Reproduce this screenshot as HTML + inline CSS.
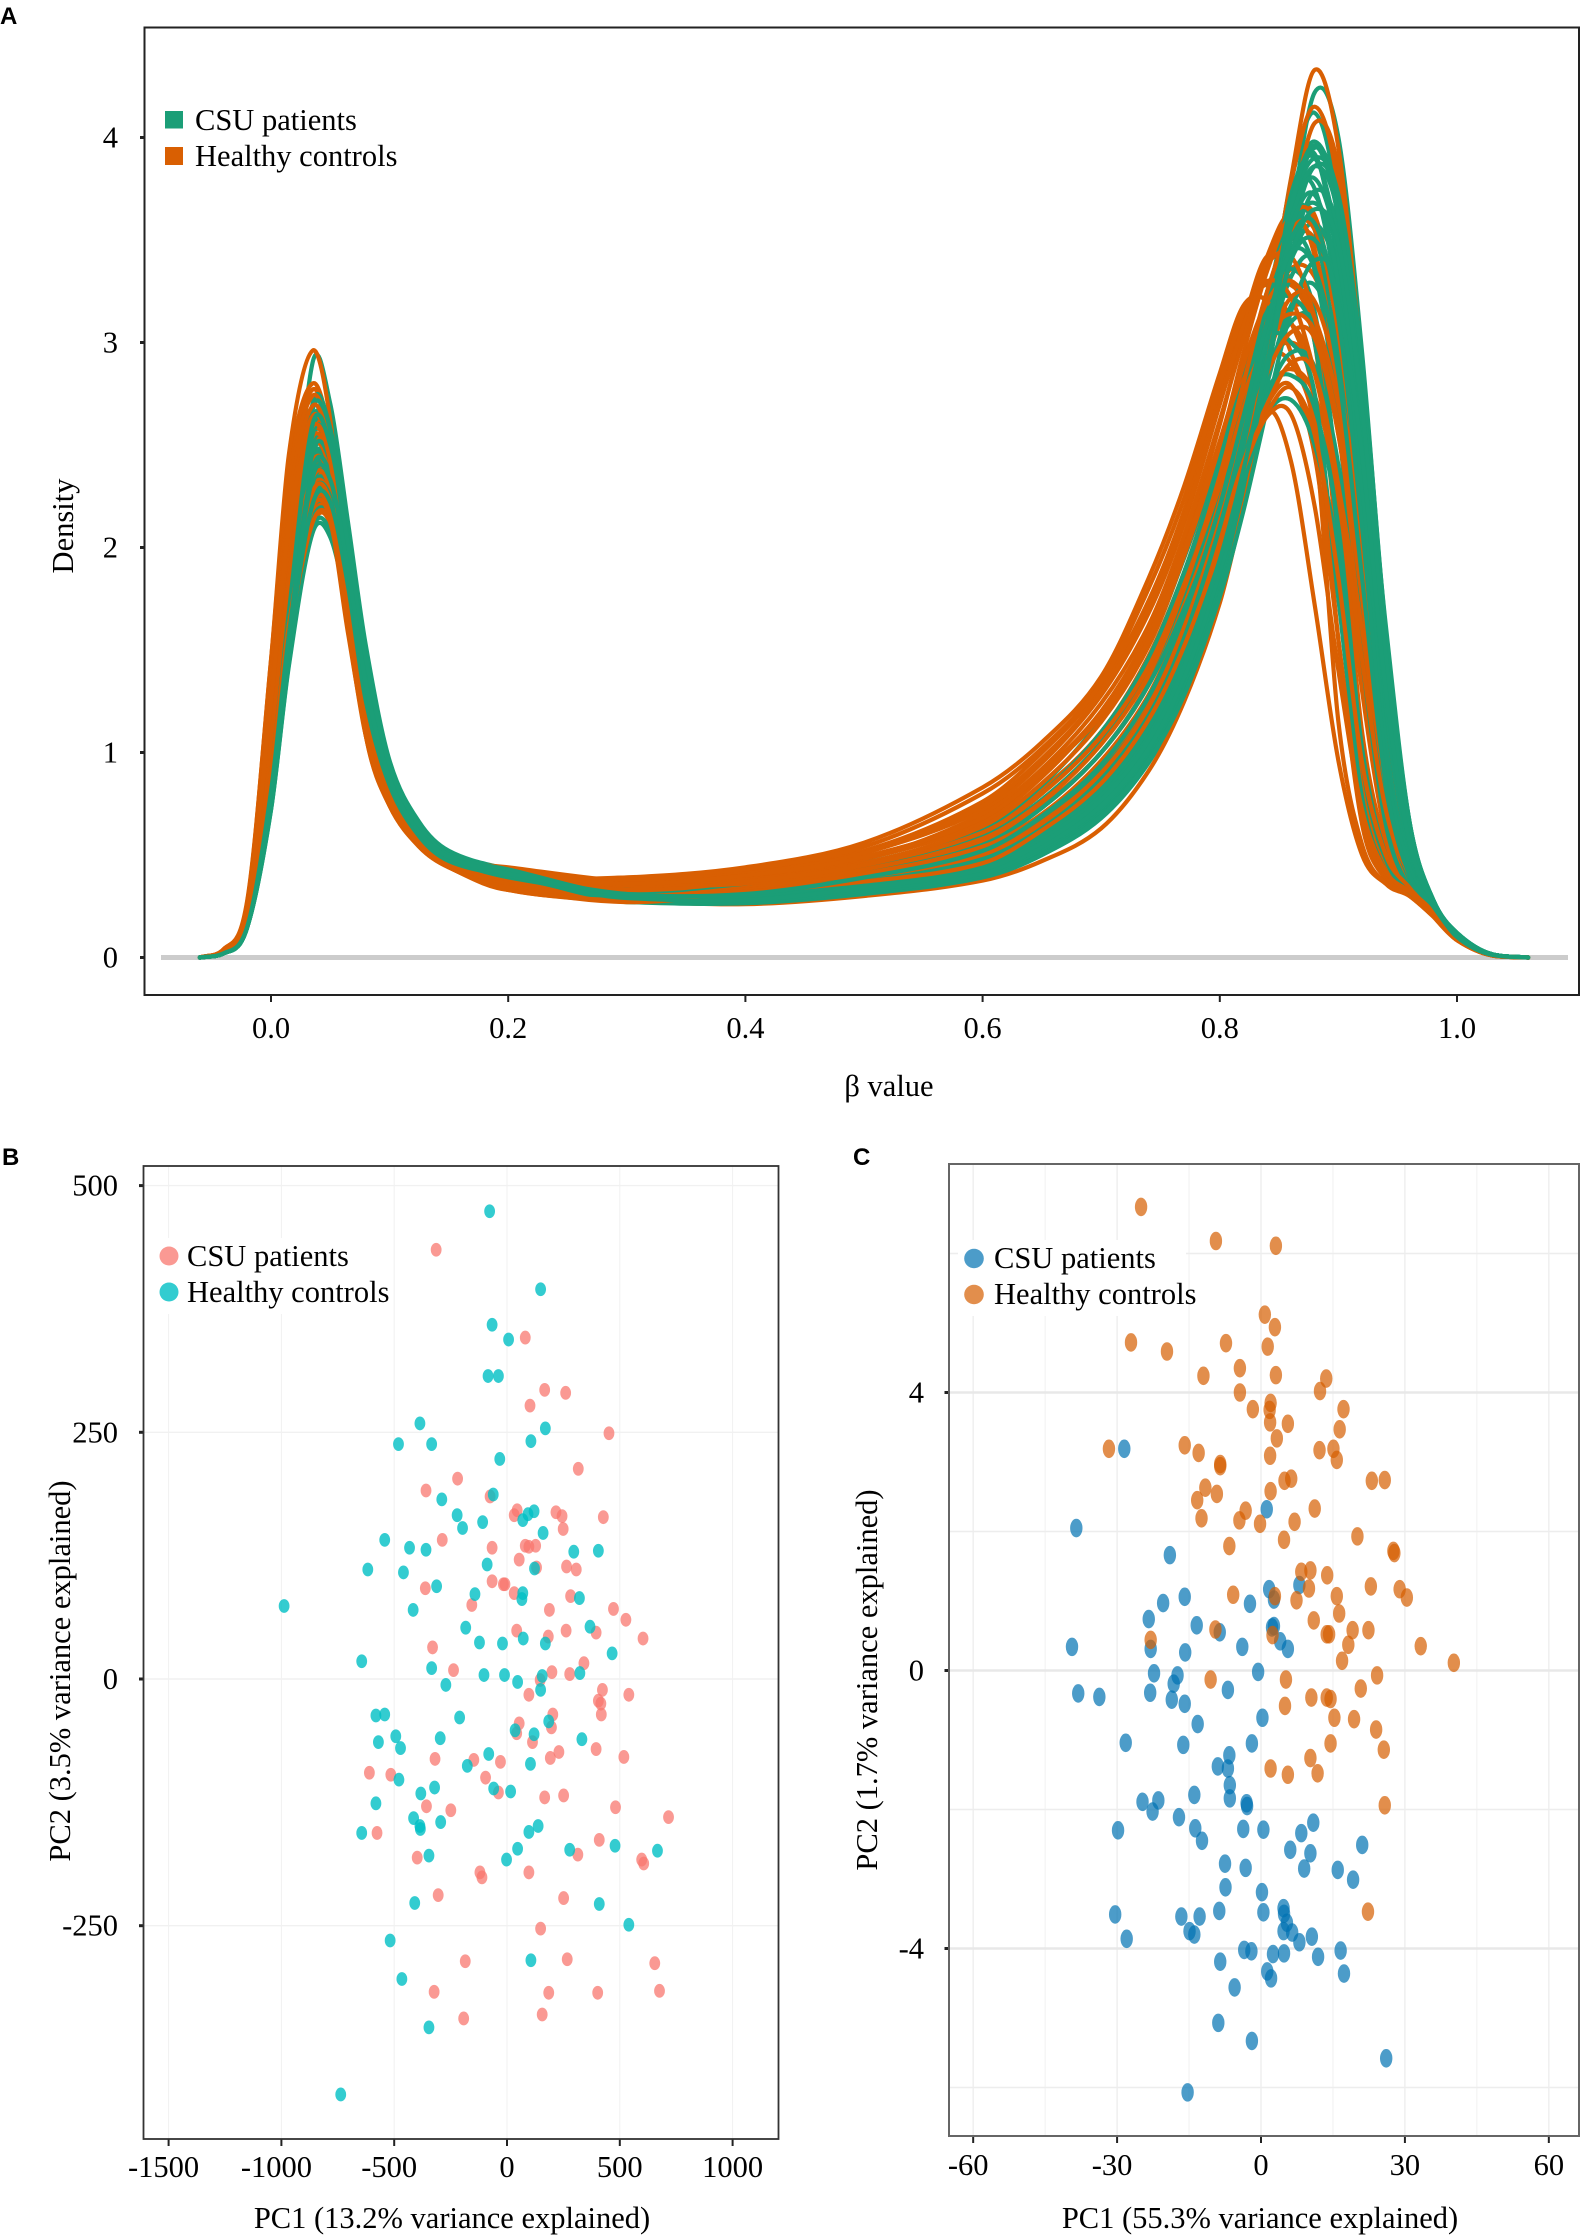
<!DOCTYPE html>
<html lang="en">
<head>
<meta charset="utf-8">
<title>Beta value density and PCA plots</title>
<style>
html,body{margin:0;padding:0;background:#fff;width:1581px;height:2235px;overflow:hidden}
svg{display:block}
text{font-family:"Liberation Serif","Times New Roman",serif;font-size:30.5px;fill:#000}
.letter{font-family:"Liberation Sans",Arial,sans-serif;font-weight:700;font-size:24px}
</style>
</head>
<body>
<svg id="fig" xmlns="http://www.w3.org/2000/svg" width="1581" height="2235" viewBox="0 0 1581 2235">
  <rect width="1581" height="2235" fill="#fff"/>

  <text class="letter" x="0" y="24">A</text>
  <text class="letter" x="2" y="1165">B</text>
  <text class="letter" x="853" y="1165">C</text>

  <g id="gridB"></g>
  <g id="gridC"></g>
  <rect x="150" y="1238" width="242" height="76" fill="#fff"/>
  <rect x="958" y="1240" width="228" height="76" fill="#fff"/>

  <line id="baselineA" stroke="#cccccc" stroke-width="5"/>
  <g id="curvesA" fill="none" stroke-width="4.2" stroke-linejoin="round" stroke-linecap="round"></g>
  <g id="pointsB"></g>
  <g id="pointsC"></g>

  <g id="axesA"></g>
  <g id="axesB"></g>
  <g id="axesC"></g>

  <rect x="144.5" y="27.5" width="1434.5" height="967.5" fill="none" stroke="#222" stroke-width="2"/>
  <rect x="143.5" y="1166" width="635" height="973" fill="none" stroke="#333" stroke-width="1.8"/>
  <rect x="949" y="1164" width="630" height="972" fill="none" stroke="#666" stroke-width="2"/>

  <g>
    <rect x="165" y="111" width="18" height="17.5" fill="#1b9e77"/>
    <text x="195" y="130">CSU patients</text>
    <rect x="165" y="147" width="18" height="18" fill="#d95f02"/>
    <text x="195" y="166">Healthy controls</text>
  </g>
  <g>
    <ellipse cx="169" cy="1256" rx="9.5" ry="9.5" fill="#f8766d" fill-opacity=".74"/>
    <text x="187" y="1266">CSU patients</text>
    <ellipse cx="169" cy="1292" rx="9.5" ry="9.5" fill="#00bfc4" fill-opacity=".8"/>
    <text x="187" y="1302">Healthy controls</text>
  </g>
  <g>
    <ellipse cx="974" cy="1258.5" rx="9.8" ry="9.8" fill="#0072b2" fill-opacity=".7"/>
    <text x="994" y="1268">CSU patients</text>
    <ellipse cx="974" cy="1294.5" rx="9.8" ry="9.8" fill="#d55e00" fill-opacity=".7"/>
    <text x="994" y="1304">Healthy controls</text>
  </g>

  <text x="889" y="1096" text-anchor="middle">β value</text>
  <text transform="translate(73,526) rotate(-90)" text-anchor="middle">Density</text>
  <text x="452" y="2228" text-anchor="middle">PC1 (13.2% variance explained)</text>
  <text transform="translate(70,1671) rotate(-90)" text-anchor="middle">PC2 (3.5% variance explained)</text>
  <text x="1260" y="2228" text-anchor="middle">PC1 (55.3% variance explained)</text>
  <text transform="translate(877,1680) rotate(-90)" text-anchor="middle">PC2 (1.7% variance explained)</text>
</svg>

<script>
/* ---------- Panel A: density curves ---------- */
const densityBeta = [-0.06,-0.04,-0.02,0,0.015,0.035,0.05,0.065,0.08,0.1,0.125,0.15,0.2,0.3,0.4,0.5,0.6,0.65,0.7,0.74,0.77,0.8,0.82,0.84,0.86,0.88,0.9,0.92,0.94,0.96,0.98,1,1.03,1.06];
const csuDensity = [
[0,.02,.16,.85,1.63,2.48,2.43,1.96,1.42,.92,.63,.5,.4,.28,.27,.33,.40,.51,.70,.98,1.33,1.85,2.3,2.9,3.6,4.22,4.0,2.95,1.58,.66,.28,.12,.015,0],
[0,.02,.17,.95,1.79,2.9,2.7,2.12,1.52,.96,.66,.52,.43,.29,.28,.34,.42,.55,.76,1.05,1.42,1.98,2.48,3.1,3.78,4.12,3.65,2.45,1.25,.55,.26,.11,.015,0],
[0,.02,.15,.75,1.48,2.17,2.18,1.78,1.22,.83,.58,.47,.38,.28,.27,.33,.41,.54,.75,1.04,1.4,1.95,2.42,3.03,3.7,3.98,3.65,2.62,1.4,.6,.27,.115,.015,0],
[0,.02,.16,.89,1.69,2.62,2.52,2.02,1.46,.94,.64,.5,.41,.28,.265,.32,.40,.52,.72,1.0,1.35,1.88,2.35,2.95,3.62,3.95,3.7,2.75,1.5,.64,.28,.12,.015,0],
[0,.02,.15,.8,1.55,2.3,2.3,1.86,1.3,.86,.6,.48,.39,.28,.28,.35,.44,.58,.8,1.1,1.48,2.02,2.5,3.08,3.72,3.9,3.45,2.35,1.1,.48,.26,.11,.015,0],
[0,.02,.15,.73,1.44,2.11,2.12,1.72,1.18,.81,.58,.46,.38,.28,.265,.32,.39,.5,.68,.95,1.28,1.8,2.25,2.83,3.5,3.86,3.7,2.85,1.55,.65,.28,.12,.015,0],
[0,.02,.17,.91,1.72,2.7,2.58,2.05,1.5,.95,.65,.51,.42,.30,.29,.36,.47,.62,.86,1.17,1.55,2.1,2.58,3.13,3.7,3.75,3.15,1.95,.88,.4,.25,.1,.012,0],
[0,.02,.15,.82,1.59,2.4,2.38,1.92,1.36,.88,.62,.49,.39,.29,.27,.33,.40,.53,.73,1.0,1.34,1.85,2.3,2.85,3.42,3.74,3.55,2.72,1.45,.62,.27,.115,.015,0],
[0,.02,.16,.85,1.62,2.45,2.41,1.94,1.4,.91,.63,.49,.4,.31,.30,.38,.50,.67,.92,1.25,1.65,2.2,2.68,3.2,3.65,3.55,2.85,1.7,.72,.36,.25,.1,.012,0],
[0,.02,.15,.72,1.42,2.07,2.05,1.68,1.15,.8,.57,.46,.38,.28,.27,.34,.43,.57,.78,1.08,1.44,1.95,2.4,2.92,3.4,3.58,3.3,2.4,1.2,.52,.26,.11,.015,0],
[0,.02,.17,.9,1.71,2.67,2.55,2.03,1.48,.95,.65,.51,.41,.32,.32,.41,.55,.73,1.0,1.33,1.75,2.3,2.78,3.25,3.52,3.35,2.6,1.4,.62,.34,.24,.1,.012,0],
[0,.02,.15,.78,1.53,2.26,2.26,1.84,1.28,.85,.6,.48,.38,.31,.29,.36,.46,.61,.84,1.15,1.52,2.02,2.45,2.93,3.32,3.4,2.95,2.0,.92,.42,.25,.105,.012,0],
[0,.02,.16,.87,1.65,2.53,2.46,1.98,1.44,.93,.64,.5,.41,.34,.33,.42,.58,.77,1.05,1.4,1.82,2.35,2.8,3.22,3.36,3.15,2.3,1.05,.52,.33,.24,.1,.012,0],
[0,.02,.15,.75,1.47,2.15,2.16,1.76,1.2,.82,.58,.47,.38,.30,.28,.34,.42,.55,.76,1.05,1.4,1.9,2.32,2.8,3.18,3.28,2.95,2.1,1.05,.46,.26,.11,.015,0],
[0,.02,.15,.82,1.58,2.36,2.35,1.9,1.34,.88,.61,.49,.4,.36,.35,.44,.60,.80,1.1,1.46,1.88,2.4,2.82,3.15,3.22,3.0,2.05,.9,.46,.32,.24,.1,.012,0],
[0,.02,.16,.88,1.67,2.58,2.5,2.0,1.45,.94,.64,.5,.4,.33,.30,.37,.48,.63,.87,1.18,1.56,2.05,2.45,2.85,3.1,3.1,2.65,1.72,.78,.38,.25,.105,.012,0],
[0,.02,.15,.77,1.51,2.22,2.24,1.82,1.26,.84,.59,.47,.38,.37,.36,.46,.63,.84,1.16,1.52,1.95,2.45,2.8,3.03,3.0,2.75,1.75,.78,.42,.31,.24,.1,.012,0],
[0,.02,.15,.84,1.6,2.42,2.39,1.93,1.38,.9,.62,.49,.39,.34,.31,.38,.50,.66,.9,1.22,1.58,2.05,2.42,2.75,2.95,2.88,2.4,1.45,.65,.34,.25,.1,.012,0],
[0,.02,.15,.72,1.43,2.09,2.08,1.7,1.16,.8,.57,.46,.38,.35,.33,.41,.55,.73,1.0,1.33,1.7,2.15,2.5,2.78,2.84,2.68,2.1,1.02,.5,.32,.24,.1,.012,0],
[0,.02,.15,.81,1.56,2.33,2.32,1.88,1.32,.87,.61,.48,.39,.31,.29,.36,.48,.62,.84,1.13,1.47,1.95,2.32,2.65,2.72,2.5,1.95,.95,.48,.32,.24,.1,.012,0],
[0,.02,.16,.86,1.64,2.5,2.44,1.97,1.43,.92,.63,.5,.4,.28,.27,.33,.41,.54,.74,1.02,1.37,1.9,2.36,2.97,3.63,3.9,3.72,2.9,1.6,.66,.28,.12,.015,0],
[0,.02,.15,.76,1.5,2.19,2.2,1.8,1.24,.84,.59,.47,.38,.29,.28,.35,.45,.59,.81,1.11,1.49,2.03,2.48,3.02,3.52,3.68,3.42,2.55,1.35,.58,.27,.115,.015,0],
[0,.02,.15,.74,1.46,2.13,2.14,1.74,1.2,.82,.58,.47,.38,.30,.28,.34,.43,.57,.78,1.07,1.44,1.98,2.45,3.02,3.68,3.92,3.35,2.2,1.0,.45,.26,.11,.015,0],
[0,.02,.15,.79,1.54,2.28,2.28,1.85,1.3,.86,.6,.48,.39,.28,.265,.31,.39,.5,.69,.96,1.28,1.76,2.18,2.68,3.15,3.4,3.3,2.75,1.62,.66,.28,.12,.015,0],
[0,.02,.16,.87,1.66,2.55,2.47,1.99,1.44,.93,.64,.5,.42,.28,.27,.34,.42,.55,.75,1.03,1.38,1.92,2.4,3.0,3.66,3.96,3.6,2.6,1.32,.55,.27,.11,.015,0],
[0,.02,.15,.8,1.56,2.31,2.31,1.87,1.31,.86,.6,.48,.41,.27,.265,.32,.40,.53,.73,1.01,1.36,1.88,2.34,2.92,3.58,3.86,3.62,2.7,1.42,.6,.27,.115,.015,0],
[0,.02,.16,.85,1.62,2.46,2.42,1.95,1.41,.92,.63,.49,.42,.28,.28,.35,.44,.58,.79,1.08,1.45,1.98,2.44,3.0,3.6,3.8,3.42,2.42,1.2,.52,.26,.11,.015,0],
[0,.02,.15,.78,1.52,2.25,2.25,1.83,1.27,.85,.6,.48,.4,.29,.29,.36,.46,.6,.82,1.12,1.5,2.04,2.5,3.03,3.56,3.72,3.28,2.25,1.05,.46,.26,.11,.012,0],
[0,.02,.15,.82,1.59,2.38,2.36,1.91,1.35,.88,.61,.49,.41,.28,.27,.33,.41,.54,.74,1.02,1.37,1.88,2.32,2.86,3.42,3.65,3.48,2.68,1.48,.62,.27,.115,.015,0],
[0,.02,.17,.89,1.68,2.6,2.5,2.01,1.46,.94,.64,.5,.43,.30,.30,.37,.48,.63,.87,1.18,1.56,2.1,2.55,3.05,3.5,3.58,3.12,2.1,.95,.44,.25,.105,.012,0],
[0,.02,.15,.76,1.51,2.21,2.22,1.81,1.25,.84,.59,.47,.4,.29,.28,.34,.43,.56,.77,1.06,1.42,1.94,2.38,2.9,3.4,3.5,3.2,2.45,1.3,.56,.27,.11,.015,0],
[0,.02,.15,.81,1.57,2.34,2.33,1.89,1.33,.87,.61,.49,.41,.31,.31,.39,.52,.69,.94,1.27,1.67,2.2,2.64,3.1,3.44,3.36,2.85,1.85,.85,.4,.25,.1,.012,0]
];
const healthyDensity = [
[0,.03,.22,1.15,1.95,2.45,2.35,1.75,1.2,.82,.58,.47,.42,.32,.33,.38,.48,.63,.88,1.2,1.58,2.1,2.55,3.1,3.8,4.33,3.95,2.85,1.5,.64,.25,.105,.012,0],
[0,.04,.27,1.45,2.38,2.8,2.52,1.74,1.08,.74,.54,.44,.34,.34,.34,.39,.5,.66,.9,1.22,1.62,2.15,2.6,3.12,3.78,4.15,3.75,2.55,1.3,.56,.24,.1,.012,0],
[0,.03,.2,1.0,1.76,2.29,2.24,1.7,1.2,.84,.59,.48,.43,.33,.33,.38,.49,.64,.88,1.2,1.56,2.08,2.5,2.98,3.6,4.07,3.85,2.85,1.55,.65,.25,.105,.012,0],
[0,.04,.28,1.45,2.45,2.96,2.62,1.78,1.08,.74,.54,.44,.33,.36,.34,.41,.52,.69,.95,1.28,1.68,2.22,2.68,3.18,3.58,3.62,3.05,1.95,.9,.41,.22,.095,.012,0],
[0,.03,.22,1.1,1.88,2.39,2.32,1.74,1.2,.83,.58,.47,.41,.37,.38,.48,.66,.88,1.2,1.58,2.02,2.6,3.05,3.42,3.63,3.42,2.65,1.38,.62,.34,.22,.095,.012,0],
[0,.04,.27,1.42,2.33,2.77,2.5,1.74,1.1,.75,.54,.44,.35,.36,.36,.44,.58,.77,1.05,1.4,1.82,2.38,2.82,3.25,3.5,3.5,3.05,2.1,1.0,.45,.23,.1,.012,0],
[0,.03,.24,1.28,2.12,2.61,2.44,1.78,1.17,.79,.56,.46,.4,.38,.40,.51,.72,.95,1.28,1.68,2.12,2.7,3.1,3.42,3.3,3.0,1.95,.75,.41,.31,.21,.09,.012,0],
[0,.03,.19,.96,1.72,2.26,2.22,1.68,1.18,.84,.59,.48,.44,.37,.35,.42,.55,.73,1.0,1.34,1.74,2.28,2.72,3.12,3.36,3.32,2.95,2.2,1.15,.5,.24,.1,.012,0],
[0,.04,.26,1.38,2.28,2.74,2.5,1.75,1.12,.76,.55,.45,.36,.38,.37,.45,.60,.80,1.1,1.46,1.88,2.42,2.85,3.2,3.28,3.05,2.2,.98,.48,.32,.21,.09,.012,0],
[0,.03,.21,1.06,1.84,2.35,2.28,1.72,1.18,.83,.58,.47,.39,.39,.42,.52,.76,1.0,1.32,1.74,2.18,2.75,3.12,3.28,3.1,2.7,1.55,.65,.38,.3,.2,.085,.01,0],
[0,.03,.25,1.35,2.22,2.69,2.47,1.76,1.14,.77,.55,.45,.38,.39,.44,.56,.83,1.05,1.37,1.85,2.3,2.85,3.18,3.2,2.95,2.55,1.15,.55,.36,.3,.2,.085,.01,0],
[0,.03,.18,.9,1.62,2.18,2.16,1.62,1.15,.82,.59,.48,.43,.33,.34,.39,.50,.66,.9,1.22,1.6,2.12,2.52,2.93,3.17,3.1,2.6,1.6,.75,.37,.22,.095,.012,0],
[0,.03,.23,1.18,2.0,2.51,2.38,1.76,1.2,.8,.57,.46,.37,.38,.38,.46,.62,.82,1.1,1.47,1.88,2.38,2.75,3.03,3.09,2.85,2.25,1.1,.55,.33,.21,.09,.012,0],
[0,.03,.2,1.04,1.8,2.32,2.26,1.72,1.2,.84,.59,.47,.41,.34,.34,.42,.56,.74,1.0,1.33,1.72,2.2,2.58,2.9,3.0,2.86,2.35,1.4,.65,.35,.22,.095,.012,0],
[0,.03,.24,1.22,2.08,2.57,2.42,1.78,1.18,.8,.57,.46,.35,.37,.39,.49,.68,.9,1.2,1.58,2.0,2.48,2.82,2.95,2.9,2.6,1.75,.82,.43,.31,.21,.09,.012,0],
[0,.03,.19,.94,1.68,2.23,2.2,1.66,1.18,.84,.6,.48,.42,.35,.33,.40,.52,.69,.94,1.25,1.62,2.08,2.45,2.76,2.87,2.74,2.25,1.3,.6,.34,.22,.095,.012,0],
[0,.03,.17,.85,1.58,2.15,2.14,1.6,1.12,.8,.58,.47,.38,.30,.33,.38,.49,.65,.88,1.2,1.58,2.05,2.4,2.7,2.79,2.45,1.55,.68,.4,.31,.2,.09,.01,0],
[0,.02,.15,.76,1.48,2.1,2.11,1.58,1.1,.78,.57,.46,.33,.28,.26,.30,.375,.47,.63,.91,1.25,1.73,2.2,2.66,2.42,1.72,.96,.5,.36,.3,.2,.085,.01,0],
[0,.03,.23,1.15,1.98,2.49,2.37,1.76,1.18,.8,.57,.46,.41,.38,.43,.54,.80,1.02,1.34,1.8,2.24,2.8,3.14,3.3,3.22,2.85,2.3,1.6,.85,.42,.21,.09,.012,0],
[0,.03,.22,1.12,1.92,2.42,2.33,1.75,1.18,.81,.57,.47,.42,.38,.41,.51,.74,.97,1.29,1.7,2.14,2.7,3.08,3.38,3.42,3.12,2.55,1.8,.95,.46,.21,.09,.012,0],
[0,.03,.22,1.08,1.86,2.37,2.3,1.72,1.16,.82,.58,.47,.43,.37,.40,.48,.70,.92,1.24,1.62,2.06,2.62,3.02,3.4,3.6,3.45,2.8,1.95,1.0,.48,.22,.095,.012,0],
[0,.03,.24,1.2,2.04,2.54,2.4,1.77,1.15,.78,.56,.46,.4,.36,.38,.46,.64,.85,1.15,1.52,1.96,2.5,2.95,3.35,3.62,3.6,3.05,2.15,1.1,.5,.23,.1,.012,0],
[0,.03,.24,1.3,2.15,2.64,2.45,1.76,1.12,.76,.55,.45,.38,.35,.36,.43,.58,.76,1.04,1.38,1.8,2.35,2.8,3.25,3.55,3.55,3.1,2.3,1.22,.54,.24,.1,.012,0],
[0,.03,.2,1.0,1.76,2.29,2.24,1.7,1.15,.82,.59,.48,.42,.36,.40,.49,.68,.9,1.18,1.55,1.98,2.52,2.9,3.2,3.3,3.12,2.7,2.0,1.05,.48,.22,.095,.012,0],
[0,.03,.18,.95,1.68,2.21,2.18,1.64,1.12,.8,.58,.47,.41,.33,.37,.45,.61,.8,1.08,1.42,1.82,2.3,2.68,3.02,3.14,3.05,2.6,1.95,1.05,.48,.22,.095,.012,0],
[0,.02,.16,.85,1.55,2.12,2.12,1.6,1.1,.79,.57,.46,.37,.30,.34,.41,.54,.7,.96,1.28,1.66,2.15,2.55,2.96,3.22,3.2,2.8,2.1,1.15,.52,.23,.1,.012,0],
[0,.03,.21,1.05,1.82,2.34,2.28,1.72,1.16,.8,.58,.46,.36,.29,.33,.38,.5,.66,.9,1.22,1.6,2.1,2.5,2.85,3.05,3.02,2.55,1.75,.85,.42,.21,.09,.012,0],
[0,.03,.19,.98,1.72,2.27,2.22,1.66,1.12,.78,.57,.46,.35,.28,.33,.38,.48,.64,.88,1.2,1.56,2.05,2.42,2.7,2.9,2.85,2.3,1.45,.72,.4,.21,.09,.012,0],
[0,.03,.24,1.25,2.1,2.59,2.42,1.74,1.1,.75,.55,.44,.34,.27,.32,.38,.47,.63,.86,1.18,1.54,2.02,2.4,2.66,2.78,2.55,1.85,.95,.5,.34,.2,.085,.01,0],
[0,.03,.18,.9,1.62,2.19,2.14,1.6,1.08,.76,.55,.44,.33,.28,.32,.37,.46,.62,.85,1.16,1.52,2.0,2.38,2.64,2.65,2.2,1.4,.72,.42,.32,.2,.085,.01,0]
];
const densityXTicks = [0,0.2,0.4,0.6,0.8,1];
const densityXLabels = ["0.0","0.2","0.4","0.6","0.8","1.0"];
const densityYTicks = [0,1,2,3,4];
const densityYLabels = ["0","1","2","3","4"];

/* ---------- Panel B: PCA ---------- */
const bCsuPc1 = [-314,81,167,260,102,452,316,-219,-359,-75,45,32,217,244,427,249,-287,-66,81,97,127,54,131,264,307,-66,-16,-9,-362,32,282,-156,188,472,527,43,183,262,395,603,-330,341,-237,199,278,147,423,97,540,405,416,418,203,54,197,43,113,395,230,518,-319,-147,-29,192,-610,-515,-95,-38,167,251,-357,481,-249,716,-576,409,314,-398,597,606,-120,-111,97,-305,251,149,-185,267,655,-323,185,402,676,-192,156];
const bCsuPc2 = [435,346,293,290,277,249,213,203,191,185,171,166,169,165,164,152,141,133,135,134,135,121,113,114,111,99,96,96,92,87,84,75,70,71,60,49,43,49,47,41,32,16,9,7,5,-1,-11,-16,-16,-22,-25,-36,-36,-45,-49,-55,-64,-71,-74,-79,-81,-82,-84,-80,-95,-97,-100,-115,-120,-118,-129,-130,-133,-140,-156,-163,-178,-181,-183,-187,-196,-201,-196,-219,-222,-253,-286,-284,-288,-317,-318,-318,-316,-344,-340];
const bHealthyPc1 = [-77,149,-66,7,-84,-38,-386,170,-481,-334,106,-32,-61,-289,120,93,70,-221,-108,-197,160,-542,-432,-359,296,405,-88,122,-617,-459,-312,-142,70,66,321,-988,-416,-183,368,-122,-20,72,170,466,-644,-334,-102,-11,156,323,47,-271,149,-581,-542,-210,185,36,120,-493,-296,-570,-472,332,-81,-176,104,-479,-321,-59,16,-382,-581,-414,-294,-386,-384,138,97,-644,479,47,278,667,-346,-2,-409,409,540,-518,106,-466,-346,-737];
const bHealthyPc2 = [474,395,359,344,307,307,259,254,238,238,241,223,187,182,170,167,161,166,159,153,148,141,133,131,129,130,116,112,111,108,94,86,87,81,82,74,70,52,53,37,36,41,36,26,18,11,4,4,3,6,-3,-6,-11,-37,-36,-39,-43,-52,-56,-58,-60,-64,-70,-61,-76,-88,-86,-102,-110,-111,-114,-116,-126,-141,-145,-149,-152,-149,-155,-156,-169,-172,-173,-174,-179,-183,-227,-228,-249,-265,-285,-304,-353,-421];
const bXTicks = [-1500,-1000,-500,0,500,1000];
const bXLabels = ["-1500","-1000","-500","0","500","1000"];
const bYTicks = [-250,0,250,500];
const bYLabels = ["-250","0","250","500"];

/* ---------- Panel C: PCA ---------- */
const cCsuPc1 = [-28.5,-38.5,1.2,-19,-20.4,-15.9,-2.3,1.7,8,2.7,-23.4,-13.4,2.7,2.3,-8.6,4,-3.9,5.6,-39.4,-23,-15.8,-.6,-22.3,-17.4,-18.2,-38.1,-33.7,-23.1,-18.6,-15.9,-6.9,.3,-13.2,-28.2,-16.2,-1.9,-6.6,-9,-6.9,-6.5,-6.5,-13.9,-24.7,-21.4,-22.6,-3,-2.9,-17.1,-29.8,-13.7,-12.3,-3.7,.5,10.9,8.4,21.1,6.1,10.3,-7.5,-3.2,9,16,19.2,-7.4,.2,-30.4,-16.6,-12.8,-8.7,.5,4.7,4.8,5.4,4.7,6.5,10.6,8,-28,-14.9,-13.9,-3.5,-2,2.5,4.8,16.6,11.9,-8.5,1.3,2.1,17.3,-5.5,-8.9,-1.9,26.1,-15.3];
const cCsuPc2 = [3.19,2.05,2.32,1.66,.97,1.06,.96,1.17,1.23,1.02,.74,.65,.64,.62,.55,.42,.34,.31,.34,.31,.26,-.02,-.04,-.07,-.19,-.33,-.38,-.32,-.42,-.48,-.28,-.68,-.77,-1.04,-1.07,-1.05,-1.22,-1.38,-1.41,-1.65,-1.84,-1.79,-1.89,-1.87,-2.03,-1.91,-1.95,-2.11,-2.3,-2.27,-2.45,-2.28,-2.29,-2.19,-2.34,-2.51,-2.58,-2.63,-2.78,-2.84,-2.85,-2.87,-3.01,-3.12,-3.19,-3.51,-3.54,-3.54,-3.46,-3.48,-3.42,-3.5,-3.63,-3.75,-3.77,-3.83,-3.91,-3.86,-3.75,-3.8,-4.02,-4.04,-4.08,-4.07,-4.03,-4.12,-4.19,-4.33,-4.43,-4.36,-4.56,-5.07,-5.33,-5.58,-6.07];
const cHealthyPc1 = [-25,-9.4,3.1,.8,2.9,-27.1,-19.6,-7.3,1.4,-4.4,-12,3.1,13.6,12.3,-4.4,-1.7,2,1.8,1.9,17.2,5.6,16.4,3.3,-31.7,-15.9,-13,12.2,15.1,15.8,1.9,-8.5,-8.5,4.9,6.3,23.1,25.8,-11.6,2,-9.2,-13.3,11.2,-3.2,-12.4,-4.5,7,-.2,4.8,20.1,-6.6,27.6,27.8,8.4,10.3,13.8,10,22.9,28.9,2.9,-5.8,7.4,15.8,30.4,16.3,11,19.1,22.4,13.7,14.2,2.4,-9.5,-23,18.2,33.3,16.9,40.2,24.2,-10.5,5.2,20.8,5,10.5,13.7,14.5,15.3,19.4,24,14.5,25.6,10.3,2,11.8,5.6,25.8,22.3];
const cHealthyPc2 = [6.67,6.18,6.11,5.12,4.94,4.72,4.59,4.71,4.66,4.35,4.24,4.25,4.2,4.02,4,3.76,3.85,3.75,3.57,3.76,3.55,3.47,3.34,3.19,3.24,3.13,3.17,3.19,3.03,3.09,2.97,2.94,2.73,2.76,2.73,2.74,2.63,2.58,2.54,2.45,2.33,2.3,2.19,2.16,2.14,2.11,1.88,1.93,1.79,1.72,1.69,1.42,1.44,1.37,1.18,1.21,1.17,1.07,1.09,1.01,1.07,1.05,.82,.72,.58,.58,.52,.52,.51,.59,.44,.37,.35,.14,.11,-.07,-.13,-.13,-.26,-.51,-.39,-.39,-.41,-.68,-.7,-.85,-1.05,-1.14,-1.26,-1.41,-1.48,-1.5,-1.94,-3.47];
const cXTicks = [-60,-30,0,30,60];
const cXLabels = ["-60","-30","0","30","60"];
const cXMinor = [-45,-15,15,45];
const cYTicks = [-4,0,4];
const cYLabels = ["-4","0","4"];
const cYMinor = [-6,-2,2,6];

/* ---------- scales ---------- */
const xA = v => 271 + v * 1186;
const yA = v => 957.5 - v * 205;
const xB = v => 507 + v * 0.2256;
const yB = v => 1679 - v * 0.9868;
const xC = v => 1261 + v * 4.797;
const yC = v => 1670.5 - v * 69.5;

const NS = 'http://www.w3.org/2000/svg';
function mk(tag, props, parent) {
  const el = document.createElementNS(NS, tag);
  for (const k in props) el.setAttribute(k, props[k]);
  parent.appendChild(el);
  return el;
}
const $ = id => document.getElementById(id);

/* smooth function-graph path through the value points (tangents limited near the baseline) */
function curvePath(xs, ys) {
  const px = xs.map(xA), py = ys.map(yA), n = px.length;
  const m = px.map((_, i) => {
    const a = Math.max(i - 1, 0), b = Math.min(i + 1, n - 1);
    let t = (py[b] - py[a]) / (px[b] - px[a]);
    if (i > 0 && i < n - 1 && ys[i] < 0.3) {
      const s0 = (py[i] - py[i - 1]) / (px[i] - px[i - 1]);
      const s1 = (py[i + 1] - py[i]) / (px[i + 1] - px[i]);
      if (s0 * s1 > 0) {
        const lim = 3 * Math.min(Math.abs(s0), Math.abs(s1));
        if (Math.abs(t) > lim) t = Math.sign(t) * lim;
      }
    }
    return t;
  });
  let d = 'M' + px[0].toFixed(1) + ' ' + py[0].toFixed(1);
  for (let i = 0; i < n - 1; i++) {
    const h = (px[i + 1] - px[i]) / 3;
    d += 'C' + (px[i] + h).toFixed(1) + ' ' + (py[i] + m[i] * h).toFixed(1) + ' ' +
         (px[i + 1] - h).toFixed(1) + ' ' + (py[i + 1] - m[i + 1] * h).toFixed(1) + ' ' +
         px[i + 1].toFixed(1) + ' ' + py[i + 1].toFixed(1);
  }
  return d;
}

/* Panel A marks */
const zero = $('baselineA');
zero.setAttribute('x1', 161);
zero.setAttribute('x2', 1568);
zero.setAttribute('y1', yA(0));
zero.setAttribute('y2', yA(0));

const curvesA = $('curvesA');
function drawCsuCurve(values) {
  const c = mk('path', {d: curvePath(densityBeta, values), stroke: '#1b9e77'}, curvesA);
  
  
}
function drawHealthyCurve(values) {
  const h = mk('path', {d: curvePath(densityBeta, values), stroke: '#d95f02'}, curvesA);
  
  
}
/* the two groups alternate row by row so the colours interleave */
const rowCount = Math.max(csuDensity.length, healthyDensity.length);
for (let i = 0; i < rowCount; i++) {
  if (csuDensity[i]) drawCsuCurve(csuDensity[i]);
  if (healthyDensity[i]) drawHealthyCurve(healthyDensity[i]);
}

/* axes helper */
function drawAxis(group, xTicks, xLabels, yTicks, yLabels, sx, sy, cfg) {
  xTicks.forEach((t, i) => {
    const tick = mk('line', {x1: sx(t), x2: sx(t), y1: cfg.bottom, y2: cfg.bottom + 7, stroke: '#222', 'stroke-width': 2}, group);
    
    
    const lab = mk('text', {x: sx(t) - (t < 0 ? 5 : 0), y: cfg.xBase, 'text-anchor': 'middle'}, group);
    lab.textContent = xLabels[i];
    
    
  });
  yTicks.forEach((t, i) => {
    const tick = mk('line', {x1: cfg.left - 4.5, x2: cfg.left, y1: sy(t), y2: sy(t), stroke: '#222', 'stroke-width': 3}, group);
    
    
    const lab = mk('text', {x: cfg.yEnd, y: sy(t) + 10, 'text-anchor': 'end'}, group);
    lab.textContent = yLabels[i];
    
    
  });
}
drawAxis($('axesA'), densityXTicks, densityXLabels, densityYTicks, densityYLabels, xA, yA, {bottom: 995, left: 144.5, xBase: 1038, yEnd: 118});
drawAxis($('axesB'), bXTicks, bXLabels, bYTicks, bYLabels, xB, yB, {bottom: 2139, left: 143.5, xBase: 2177, yEnd: 118});
drawAxis($('axesC'), cXTicks, cXLabels, cYTicks, cYLabels, xC, yC, {bottom: 2136, left: 949, xBase: 2175, yEnd: 924});

/* grids */
function gridLine(group, horizontal, pos, a, b, color, width, name) {
  const g = mk('line', horizontal ? {x1: a, x2: b, y1: pos, y2: pos, stroke: color, 'stroke-width': width}
                                  : {x1: pos, x2: pos, y1: a, y2: b, stroke: color, 'stroke-width': width}, group);
  
  
}
bXTicks.forEach(t => gridLine($('gridB'), false, xB(t), 1166, 2139, '#f1f1f1', 1, 'grid-line-vertical'));
bYTicks.forEach(t => gridLine($('gridB'), true, yB(t), 143, 779, '#f1f1f1', 1.4, 'grid-line-horizontal'));
cXTicks.forEach(t => gridLine($('gridC'), false, xC(t), 1164, 2136, '#ebebeb', 1.2, 'grid-line-vertical'));
cXMinor.forEach(t => gridLine($('gridC'), false, xC(t), 1164, 2136, '#f0f0f0', 1, 'grid-line-vertical-minor'));
cYTicks.forEach(t => gridLine($('gridC'), true, yC(t), 949, 1579, '#e8e8e8', 2.4, 'grid-line-horizontal'));
cYMinor.forEach(t => gridLine($('gridC'), true, yC(t), 949, 1579, '#ededed', 1.4, 'grid-line-horizontal-minor'));

/* scatter points */
function drawPoints(group, xs, ys, sx, sy, rx, ry, color, alpha, name) {
  xs.forEach((v, i) => {
    const p = mk('ellipse', {cx: sx(v), cy: sy(ys[i]), rx: rx, ry: ry, fill: color, 'fill-opacity': alpha}, group);
    
    
  });
}
drawPoints($('pointsB'), bCsuPc1, bCsuPc2, xB, yB, 5.4, 6.9, '#f8766d', .74, 'csu-patient-point');
drawPoints($('pointsB'), bHealthyPc1, bHealthyPc2, xB, yB, 5.4, 6.9, '#00bfc4', .8, 'healthy-control-point');
drawPoints($('pointsC'), cCsuPc1, cCsuPc2, xC, yC, 6.2, 9.3, '#0072b2', .7, 'csu-patient-point');
drawPoints($('pointsC'), cHealthyPc1, cHealthyPc2, xC, yC, 6.2, 9.3, '#d55e00', .7, 'healthy-control-point');
</script>
</body>
</html>
